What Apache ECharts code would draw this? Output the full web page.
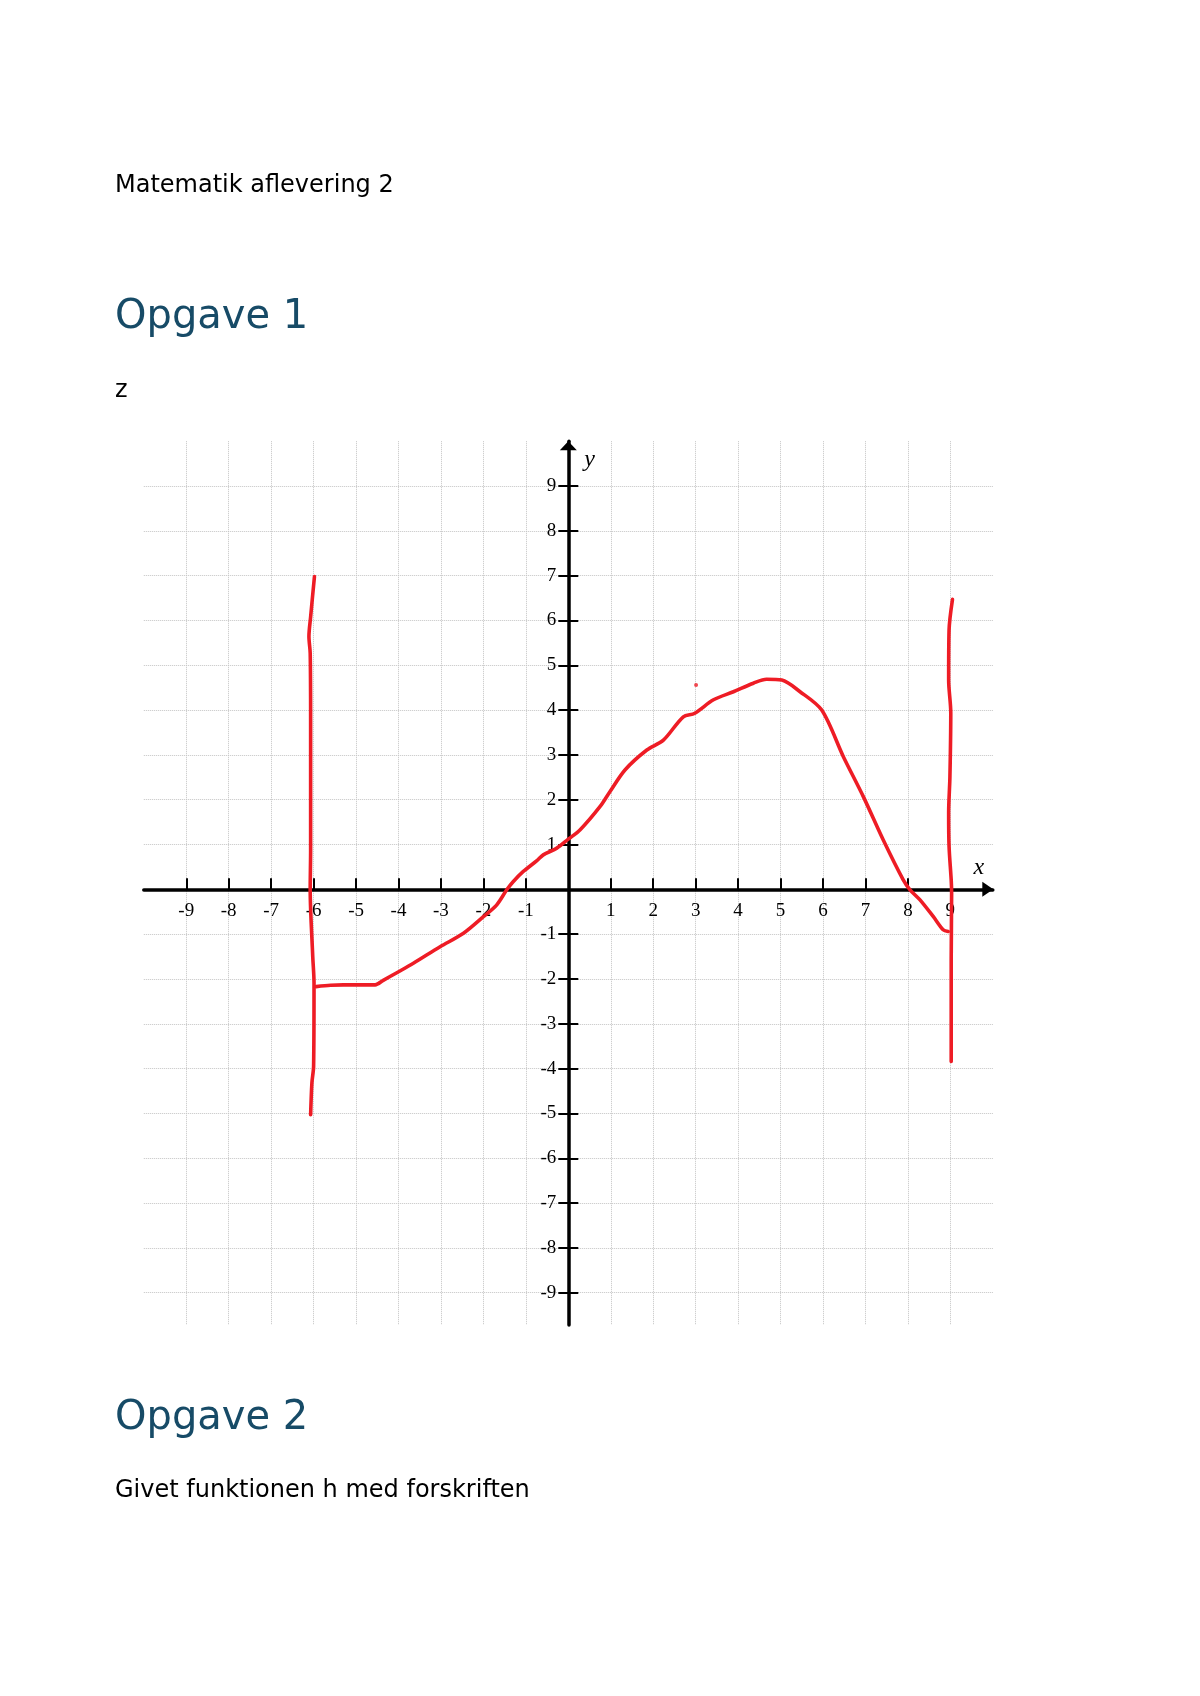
<!DOCTYPE html>
<html>
<head>
<meta charset="utf-8">
<script src="https://cdn.jsdelivr.net/npm/echarts@6/dist/echarts.min.js"></script>
<style>
html,body{margin:0;padding:0;background:#fff;}
#c{width:1200px;height:1696px;}
</style>
</head>
<body>
<div id="c"></div>
<script>
// Tick labels
var xTicks = [-9,-8,-7,-6,-5,-4,-3,-2,-1,1,2,3,4,5,6,7,8,9];
var yTicks = [9,8,7,6,5,4,3,2,1,-1,-2,-3,-4,-5,-6,-7,-8,-9];

// Hand-drawn curve: main piece
var mainCurve = [
  [-5.94,-2.17],[-5.6,-2.14],[-5.3,-2.13],[-4.9,-2.13],[-4.55,-2.13],[-4.36,-2.03],
  [-4.04,-1.86],[-3.65,-1.65],[-3.02,-1.28],[-2.47,-0.98],[-2.0,-0.61],[-1.69,-0.35],
  [-1.45,-0.01],[-1.30,0.17],[-1.06,0.40],[-0.74,0.64],[-0.59,0.77],[-0.27,0.92],
  [0,1.12],[0.28,1.33],[0.75,1.85],[0.98,2.18],[1.34,2.67],[1.85,3.11],[2.24,3.33],
  [2.71,3.85],[2.98,3.93],[3.42,4.23],[3.89,4.41],[4.36,4.60],[4.67,4.69],[5.03,4.67],
  [5.46,4.41],[5.97,4.0],[6.48,2.96],[6.95,2.07],[7.42,1.10],[7.89,0.21],[8.05,-0.01],
  [8.28,-0.23],[8.60,-0.61],[8.83,-0.90],[8.95,-0.94]
];
// Left vertical stroke near x = -6
var leftLine = [
  [-5.98,6.98],[-6.07,6.08],[-6.11,5.64],[-6.08,5.27],[-6.07,3.78],[-6.07,0.88],
  [-6.08,0],[-6.02,-1.5],[-5.99,-2.09],[-6.0,-3.95],[-6.04,-4.32],[-6.07,-5.03]
];
// Right vertical stroke near x = 9
var rightLine = [
  [9.05,6.47],[8.97,5.79],[8.96,4.67],[9.01,3.94],[8.99,2.52],[8.96,1.70],
  [8.97,0.95],[9.02,0.21],[9.03,-0.08],[9.02,-1.57],[9.02,-3.84]
];
// Stray dot
var dot = [[3.01,4.56]];

var RED = '#ee1c25';
var GRID = '#c4c4c4';
var serif = 'Liberation Serif';

var G = {left:143.8, right:207.2, top:441.2, bottom:371};

function lineSeries(d){
  return {type:'line', data:d, smooth:0.3, showSymbol:false, symbol:'none',
    lineStyle:{color:RED, width:3.6, cap:'round', join:'round'}, z:5, silent:true};
}

var chart = echarts.init(document.getElementById('c'), null, {renderer:'canvas'});
chart.setOption({
  backgroundColor:'#fff',
  animation:false,
  grid:{left:G.left, right:G.right, top:G.top, bottom:G.bottom, containLabel:false, outerBoundsMode:'none'},
  xAxis:{
    type:'value', min:-10, max:10, interval:1, position:'bottom', offset:0,
    name:'x', nameLocation:'end', nameGap:-14,
    nameTextStyle:{fontFamily:serif, fontStyle:'italic', fontSize:24, color:'#000', align:'center', verticalAlign:'bottom', padding:[0,0,10,0]},
    axisLine:{show:true, onZero:false, symbol:['none','triangle'], symbolSize:[15,11], symbolOffset:[0,-5],
      lineStyle:{color:'#000', width:3.5}},
    axisTick:{show:true, inside:true, length:11, customValues:xTicks, lineStyle:{color:'#000', width:2}},
    axisLabel:{show:true, customValues:xTicks, margin:12, fontFamily:serif, fontSize:19, color:'#000'},
    splitLine:{show:true, showMinLine:true, showMaxLine:true, lineStyle:{color:GRID, type:'dotted', width:1}}
  },
  yAxis:[{
    type:'value', min:-9.72, max:10, splitNumber:20, minInterval:1, maxInterval:1, position:'left', offset:0,
    name:'y', nameLocation:'end', nameGap:-30,
    nameTextStyle:{fontFamily:serif, fontStyle:'italic', fontSize:24, color:'#000', align:'left', verticalAlign:'bottom', padding:[0,0,0,16]},
    axisLine:{show:true, onZero:false, symbol:['none','triangle'], symbolSize:[17,9], symbolOffset:[0,-4.5],
      lineStyle:{color:'#000', width:3.5}},
    axisTick:{show:true, inside:false, length:10, customValues:yTicks, lineStyle:{color:'#000', width:2}},
    axisLabel:{show:true, customValues:yTicks, margin:12, fontFamily:serif, fontSize:19, color:'#000'},
    splitLine:{show:true, showMinLine:true, showMaxLine:true, lineStyle:{color:GRID, type:'dotted', width:1}}
  },{
    type:'value', min:-9.72, max:10, splitNumber:20, minInterval:1, maxInterval:1, position:'left', offset:0,
    axisLine:{show:true, onZero:false, lineStyle:{color:'#000', width:0, opacity:0}},
    axisTick:{show:true, inside:true, length:10, customValues:yTicks, lineStyle:{color:'#000', width:2}},
    axisLabel:{show:false},
    splitLine:{show:false}
  }],
  graphic:[
    {type:'text', left:115, top:174, style:{text:'Matematik aflevering 2', font:'24px "DejaVu Sans"', fill:'#000'}},
    {type:'text', left:115, top:298, style:{text:'Opgave 1', font:'40px "DejaVu Sans"', fill:'#174b67'}},
    {type:'text', left:115, top:379, style:{text:'z', font:'24px "DejaVu Sans"', fill:'#000'}},
    {type:'text', left:115, top:1399, style:{text:'Opgave 2', font:'40px "DejaVu Sans"', fill:'#174b67'}},
    {type:'text', left:115, top:1479, style:{text:'Givet funktionen h med forskriften', font:'24px "DejaVu Sans"', fill:'#000'}}
  ],
  series:[
    lineSeries(mainCurve),
    lineSeries(leftLine),
    lineSeries(rightLine),
    {type:'scatter', data:dot, symbol:'circle', symbolSize:4, itemStyle:{color:RED}, z:5, silent:true}
  ]
});

// Move the axes so they cross at the origin (x = 0, y = 0)
var origin = chart.convertToPixel({gridIndex:0}, [0,0]);
var gridBottomY = 1696 - G.bottom;
var xOff = origin[1] - gridBottomY;
var yOff = G.left - origin[0];
chart.setOption({
  xAxis:{offset:xOff},
  yAxis:[{offset:yOff},{offset:yOff}]
});
</script>
</body>
</html>
